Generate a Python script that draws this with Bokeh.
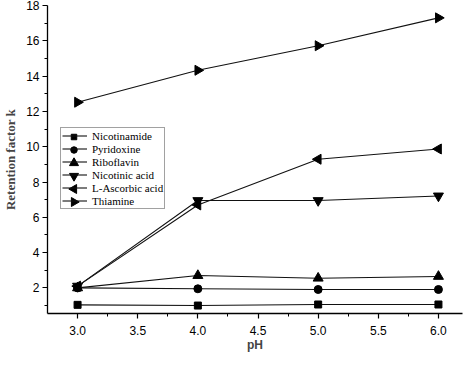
import numpy as np
from bokeh.plotting import figure
from bokeh.models import FixedTicker, Range1d, Legend, LegendItem
from bokeh.embed import file_html
from bokeh.resources import INLINE

ph = [3.0, 4.0, 5.0, 6.0]
nicotinamide = [1.04, 1.0, 1.06, 1.06]
pyridoxine = [2.0, 1.95, 1.91, 1.91]
riboflavin = [2.0, 2.7, 2.55, 2.65]
nicotinic_acid = [2.1, 6.95, 6.95, 7.21]
ascorbic_acid = [2.1, 6.7, 9.29, 9.87]
thiamine = [12.52, 14.33, 15.72, 17.3]

names = ["Nicotinamide", "Pyridoxine", "Riboflavin", "Nicotinic acid",
         "L-Ascorbic acid", "Thiamine"]
x_ticks = [3.0, 3.5, 4.0, 4.5, 5.0, 5.5, 6.0]
x_tick_labels = ["3.0", "3.5", "4.0", "4.5", "5.0", "5.5", "6.0"]
y_ticks = [2, 4, 6, 8, 10, 12, 14, 16, 18]

FW, FH = 415, 308
X0, X1 = 2.75, 6.2
Y0, Y1 = 0.55, 18.0

p = figure(frame_width=FW, frame_height=FH, output_backend="svg",
           toolbar_location=None,
           x_range=Range1d(X0, X1), y_range=Range1d(Y0, Y1),
           min_border_top=5, min_border_right=1, min_border_left=42,
           min_border_bottom=39)
p.outline_line_color = None
p.xgrid.visible = False
p.ygrid.visible = False

styles = [
    ("square", 0.0, 7, 5.5),
    ("circle", 0.0, 8, 6.5),
    ("triangle", 0.0, 10, 9),
    ("inverted_triangle", 0.0, 10, 9),
    ("triangle", np.pi / 2, 10, 9),
    ("triangle", -np.pi / 2, 10, 9),
]
values = [nicotinamide, pyridoxine, riboflavin, nicotinic_acid, ascorbic_acid, thiamine]

items = []
for name, vals, (marker, ang, sz, _) in zip(names, values, styles):
    r1 = p.line(ph, vals, line_color="#111111", line_width=1.1)
    p.scatter(ph, vals, marker=marker, angle=ang, size=sz,
              fill_color="black", line_color="black")
    items.append(LegendItem(label=name, renderers=[r1]))

# legend layout (screen pixels, relative to the frame's bottom-left corner)
LX, LY, PAD, ROW, GW = 13, 104, 1, 13, 25
legend = Legend(items=items, location=(LX, LY))
legend.label_text_font = "Liberation Serif"
legend.label_text_font_size = "11px"
legend.label_text_color = "black"
legend.glyph_width = GW
legend.glyph_height = ROW
legend.label_height = ROW
legend.label_standoff = 5
legend.spacing = 0
legend.padding = PAD
legend.margin = 0
legend.border_line_color = "#444444"
legend.border_line_width = 1
legend.background_fill_alpha = 0
p.add_layout(legend, "center")

# legend markers, placed in the centre of each legend glyph area
n = len(names)
leg_h = n * ROW + 2 * PAD
for i, (marker, ang, _, lsz) in enumerate(styles):
    px_x = LX + PAD + GW / 2
    px_y = LY + leg_h - PAD - ROW * (i + 0.5)
    mx = X0 + px_x * (X1 - X0) / FW
    my = Y0 + px_y * (Y1 - Y0) / FH
    p.scatter([mx], [my], marker=marker, angle=ang, size=lsz,
              fill_color="black", line_color="black")

for ax in (p.xaxis[0], p.yaxis[0]):
    ax.axis_line_color = "black"
    ax.axis_line_width = 1.3
    ax.major_tick_line_color = "black"
    ax.minor_tick_line_color = "black"
    ax.major_tick_line_width = 1.2
    ax.major_tick_out = 5
    ax.major_tick_in = 0
    ax.minor_tick_out = 3
    ax.minor_tick_in = 0
    ax.major_label_text_font = "Liberation Sans"
    ax.major_label_text_font_size = "12px"
    ax.major_label_text_color = "black"

p.xaxis[0].ticker = FixedTicker(ticks=x_ticks,
                                minor_ticks=[t + 0.25 for t in x_ticks])
p.xaxis[0].major_label_overrides = {t: l for t, l in zip(x_ticks, x_tick_labels)}
p.xaxis[0].major_label_standoff = 7
p.xaxis[0].axis_label = "pH"
p.xaxis[0].axis_label_text_font = "Liberation Sans"
p.xaxis[0].axis_label_text_font_style = "bold"
p.xaxis[0].axis_label_text_font_size = "12px"
p.xaxis[0].axis_label_standoff = 0

p.yaxis[0].ticker = FixedTicker(ticks=y_ticks, minor_ticks=[t - 1 for t in y_ticks])
p.yaxis[0].major_label_standoff = 3
p.yaxis[0].axis_label = "Retention factor k"
p.yaxis[0].axis_label_text_font = "Liberation Serif"
p.yaxis[0].axis_label_text_font_style = "bold"
p.yaxis[0].axis_label_text_font_size = "13px"
p.yaxis[0].axis_label_standoff = 5

open("out.html", "w").write(file_html(p, INLINE))
